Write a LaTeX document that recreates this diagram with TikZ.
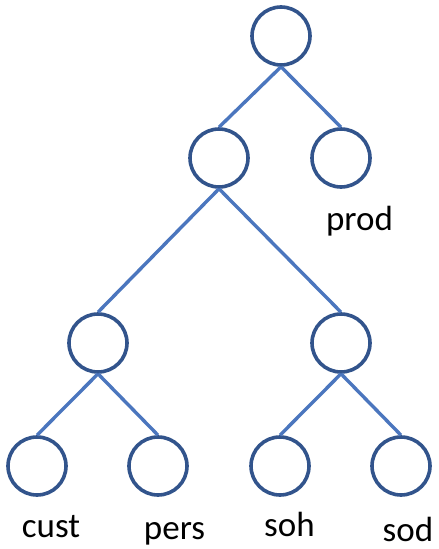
\documentclass[tikz,border=0pt]{standalone}
\usepackage{fontspec}
\setmainfont{Carlito}
\begin{document}
\begin{tikzpicture}[x=1pt,y=-1pt,
  nd/.style={circle,draw=circ,line width=3.6pt,fill=white,minimum size=58pt,inner sep=0pt},
  edge/.style={draw=edgec,line width=3.4pt},
  lbl/.style={anchor=base,inner sep=0pt,font=\fontsize{35}{42}\selectfont}]
\definecolor{circ}{RGB}{50,84,140}
\definecolor{edgec}{RGB}{75,118,190}
\useasboundingbox (0,0) rectangle (439,549);
\node[nd] (nr) at (281,36) {};
\node[nd] (na) at (219,158) {};
\node[nd] (nb) at (341,158) {};
\node[nd] (nc) at (98,343) {};
\node[nd] (nd) at (341,343) {};
\node[nd] (ne) at (37,466) {};
\node[nd] (nf) at (158,466) {};
\node[nd] (ng) at (280,466) {};
\node[nd] (nh) at (401,466) {};
\path[edge] (nr.south) -- (na.north) (nr.south) -- (nb.north)
  (na.south) -- (nc.north) (na.south) -- (nd.north)
  (nc.south) -- (ne.north) (nc.south) -- (nf.north)
  (nd.south) -- (ng.north) (nd.south) -- (nh.north);
\node[lbl] (lprod) at (359.5,230) {prod};
\node[lbl] (lcust) at (51,537) {cust};
\node[lbl] (lpers) at (174.5,539) {pers};
\node[lbl] (lsoh) at (289.5,536) {soh};
\node[lbl] (lsod) at (408,541) {sod};
\end{tikzpicture}
\end{document}
